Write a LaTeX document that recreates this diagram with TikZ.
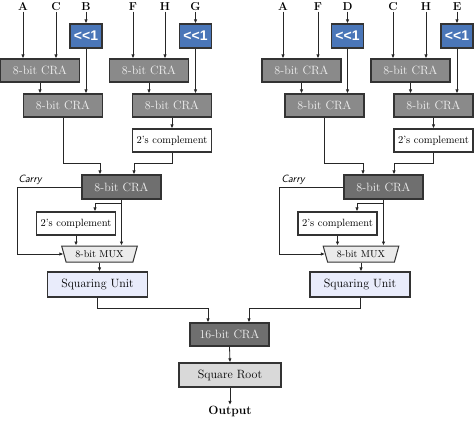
\documentclass[tikz,border=0pt]{standalone}
\usepackage{fontspec}
\newfontfamily\shfont{Liberation Sans}
\usetikzlibrary{arrows.meta,shapes.geometric}
\definecolor{cragray}{HTML}{8A8A8A}
\definecolor{cradark}{HTML}{6F6F6F}
\definecolor{shblue}{HTML}{4A76B8}
\definecolor{sqfill}{HTML}{E9ECFB}
\definecolor{muxfill}{HTML}{EBEBEB}
\definecolor{rootfill}{HTML}{D9D9D9}
\definecolor{edgecol}{HTML}{333333}
\begin{document}
\begin{tikzpicture}[x=1pt,y=-1pt,
 box/.style={draw=edgecol, line width=1.2pt, inner sep=0pt, minimum height=23pt},
 cra/.style={box, fill=cragray, text=white!94!black, minimum width=79pt, font=\fontsize{12}{14}\selectfont},
 cradk/.style={cra, fill=cradark, minimum height=24pt},
 shbox/.style={box, fill=shblue, text=white, minimum width=32pt, minimum height=24pt, font=\shfont\bfseries\fontsize{14}{16}\selectfont},
 compbox/.style={box, fill=white, minimum width=79pt, font=\fontsize{10.5}{12}\selectfont},
 squ/.style={box, fill=sqfill, minimum width=100pt, minimum height=25pt, font=\fontsize{12}{14}\selectfont},
 rootbox/.style={box, fill=rootfill, minimum width=102pt, minimum height=24pt, font=\fontsize{12}{14}\selectfont},
 muxbox/.style={trapezium, trapezium stretches=true, shape border rotate=180, trapezium angle=66, draw=edgecol, line width=1pt, fill=muxfill, minimum width=76pt, minimum height=16pt, inner sep=0pt, font=\fontsize{10}{12}\selectfont},
 inp/.style={font=\bfseries\fontsize{11.5}{13}\selectfont, inner sep=1pt},
 carrylbl/.style={font=\sffamily\itshape\fontsize{10.5}{12}\selectfont, inner sep=0pt},
 arr/.style={draw=black!85, line width=0.8pt, -{Latex[length=4pt,width=3.5pt]}},
]
\fill[white] (0,0) rectangle (474,421);
\useasboundingbox (0,0) rectangle (474,421);

% ---------- left half ----------
\node[inp] (iA) at (23,6.5) {A};
\node[inp] (iC) at (56,6.5) {C};
\node[inp] (iB) at (86,6.5) {B};
\node[inp] (iF) at (133,6.5) {F};
\node[inp] (iH) at (165,6.5) {H};
\node[inp] (iG) at (195.5,6.5) {G};

\node[shbox] (sB) at (86,36) {<<1};
\node[shbox] (sG) at (195.5,36) {<<1};
\node[cra] (c1) at (40,70.5) {8-bit CRA};
\node[cra] (c2) at (63,105.5) {8-bit CRA};
\node[cra] (c3) at (149,70.5) {8-bit CRA};
\node[cra] (c4) at (172,105.5) {8-bit CRA};
\node[compbox] (p1) at (172,140.5) {2's complement};
\node[cradk] (c5) at (121.5,187) {8-bit CRA};
\node[compbox] (p2) at (76,223.5) {2's complement};
\node[muxbox] (m1) at (99.5,254) {8-bit MUX};
\node[squ] (q1) at (97.5,284.5) {Squaring Unit};
\node[carrylbl] (k1) at (30,180) {Carry};

\draw[arr] (iA.south) -- (iA.south |- c1.north);
\draw[arr] (iC.south) -- (iC.south |- c1.north);
\draw[arr] (iB.south) -- (sB.north);
\draw[arr] (sB.south) -- (sB.south |- c2.north);
\draw[arr] (c1.south) -- (c1.south |- c2.north);
\draw[arr] (iF.south) -- (iF.south |- c3.north);
\draw[arr] (iH.south) -- (iH.south |- c3.north);
\draw[arr] (iG.south) -- (sG.north);
\draw[arr] (sG.south) -- (sG.south |- c4.north);
\draw[arr] (c3.south) -- (c3.south |- c4.north);
\draw[arr] (c4.south) -- (p1.north);
\draw[arr] (c2.south) -- (c2.south |- 0,163) -| ([xshift=-21.5pt]c5.north);
\draw[arr] (p1.south) -- (p1.south |- 0,163) -| ([xshift=12.5pt]c5.north);
\draw[arr] (c5.west) -- (c5.west -| 17,0) |- (m1.west);
\draw[arr] (c5.south) -- (c5.south |- m1.north);
\draw[arr] (c5.south |- 0,203) -| ([xshift=19pt]p2.north);
\draw[arr] (p2.south) -- (p2.south |- m1.north);
\draw[arr] (m1.south) -- (m1.south |- q1.north);

% ---------- right half ----------
\node[inp] (rA) at (283,6.5) {A};
\node[inp] (rF) at (318,6.5) {F};
\node[inp] (rD) at (347.5,6.5) {D};
\node[inp] (rC) at (393,6.5) {C};
\node[inp] (rH) at (426,6.5) {H};
\node[inp] (rE) at (457,6.5) {E};

\node[shbox] (sD) at (347.5,36) {<<1};
\node[shbox] (sE) at (457,36) {<<1};
\node[cra] (d1) at (301.5,70.5) {8-bit CRA};
\node[cra] (d2) at (324.5,105.5) {8-bit CRA};
\node[cra] (d3) at (410.5,70.5) {8-bit CRA};
\node[cra] (d4) at (433.5,105.5) {8-bit CRA};
\node[compbox] (r1) at (433.5,140.5) {2's complement};
\node[cradk] (d5) at (383.5,187) {8-bit CRA};
\node[compbox] (r2) at (337.5,223.5) {2's complement};
\node[muxbox] (m2) at (361,254) {8-bit MUX};
\node[squ] (q2) at (360,284.5) {Squaring Unit};
\node[carrylbl] (k2) at (293,180) {Carry};

\draw[arr] (rA.south) -- (rA.south |- d1.north);
\draw[arr] (rF.south) -- (rF.south |- d1.north);
\draw[arr] (rD.south) -- (sD.north);
\draw[arr] (sD.south) -- (sD.south |- d2.north);
\draw[arr] (d1.south) -- (d1.south |- d2.north);
\draw[arr] (rC.south) -- (rC.south |- d3.north);
\draw[arr] (rH.south) -- (rH.south |- d3.north);
\draw[arr] (rE.south) -- (sE.north);
\draw[arr] (sE.south) -- (sE.south |- d4.north);
\draw[arr] (d3.south) -- (d3.south |- d4.north);
\draw[arr] (d4.south) -- (r1.north);
\draw[arr] (d2.south) -- (d2.south |- 0,163) -| ([xshift=-20.5pt]d5.north);
\draw[arr] (r1.south) -- (r1.south |- 0,163) -| ([xshift=10.5pt]d5.north);
\draw[arr] (d5.west) -- (d5.west -| 279,0) |- (m2.west);
\draw[arr] (d5.south) -- (d5.south |- m2.north);
\draw[arr] (d5.south |- 0,203) -| ([xshift=19.5pt]r2.north);
\draw[arr] (r2.south) -- (r2.south |- m2.north);
\draw[arr] (m2.south) -- (m2.south |- q2.north);

% ---------- bottom ----------
\node[cradk, minimum height=23pt] (c16) at (229.5,334.5) {16-bit CRA};
\node[rootbox] (rt) at (230,375) {Square Root};
\node[font=\bfseries\fontsize{12}{14}\selectfont, inner sep=1pt] (out) at (230,411.5) {Output};

\draw[arr] (q1.south) -- (q1.south |- 0,308) -| ([xshift=-21.5pt]c16.north);
\draw[arr] (q2.south) -- (q2.south |- 0,308) -| ([xshift=19.5pt]c16.north);
\draw[arr] (c16.south) -- (rt.north);
\draw[arr] (rt.south) -- (out.north);
\end{tikzpicture}
\end{document}
